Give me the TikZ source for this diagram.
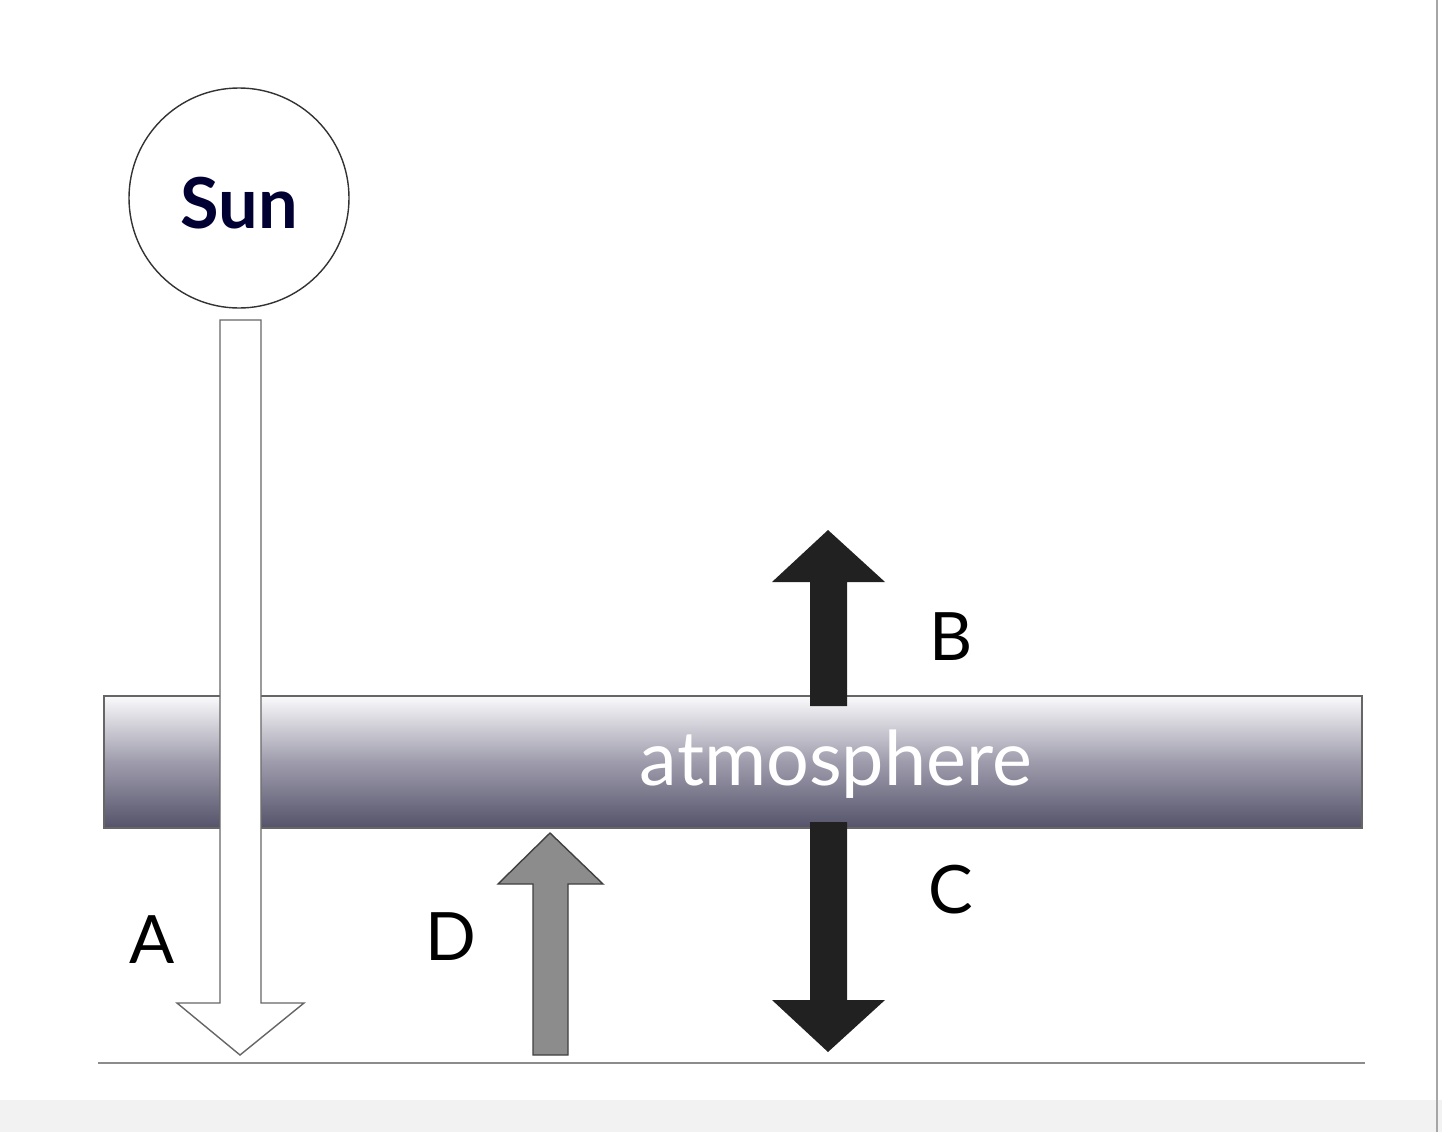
\documentclass[tikz,border=0pt]{standalone}
\usepackage{fontspec}
\setmainfont{Lato}
\definecolor{atmtop}{HTML}{FAFAFC}
\definecolor{atmmid}{HTML}{9E9CAC}
\definecolor{atmbot}{HTML}{55536A}
\begin{document}
\begin{tikzpicture}[x=0.02cm,y=-0.02cm,
  lbl/.style={font=\fontsize{38}{44}\selectfont, text=black}]
\useasboundingbox (0,0) rectangle (1442,1132);
\fill[black!5] (0,1100) rectangle (1442,1132);
\draw[black!35, line width=1.5pt] (1437,0) -- (1437,1132);
% ground
\draw[black!45, line width=1pt] (98,1063) -- (1365,1063);
% atmosphere
\shade[top color=atmtop, bottom color=atmbot, middle color=atmmid] (104,696) rectangle (1362,828);
\draw[black!60, line width=0.8pt] (104,696) rectangle (1362,828);
\node[text=white, font=\fontsize{43}{50}\selectfont] (atm) at (836,764) {atmosphere};
% sun
\node[circle, draw=black!80, line width=0.8pt, fill=white, minimum size=220*0.02cm] (sun) at (239,198) {};
\node[text=blue!20!black, font=\fontsize{40}{48}\selectfont\bfseries] (suntxt) at (239,203) {Sun};
% A
\draw[fill=white, draw=black!60, line width=0.8pt] (220,320) -- (261,320) -- (261,1003) -- (304,1003) -- (240,1055) -- (177,1003) -- (220,1003) -- cycle;
% B
\fill[black!87] (810,706) -- (847,706) -- (847,582) -- (885,582) -- (828,530) -- (772,582) -- (810,582) -- cycle;
% C
\fill[black!87] (810,822) -- (847,822) -- (847,1000) -- (885,1000) -- (828,1052) -- (772,1000) -- (810,1000) -- cycle;
% D
\draw[fill=black!45, draw=black!75, line width=0.8pt] (533,1055) -- (568,1055) -- (568,884) -- (603,884) -- (550,833) -- (498,884) -- (533,884) -- cycle;
\node[lbl] (A) at (152,940) {A};
\node[lbl] (B) at (951,637) {B};
\node[lbl] (C) at (951,890) {C};
\node[lbl] (D) at (451,937) {D};
\end{tikzpicture}
\end{document}
